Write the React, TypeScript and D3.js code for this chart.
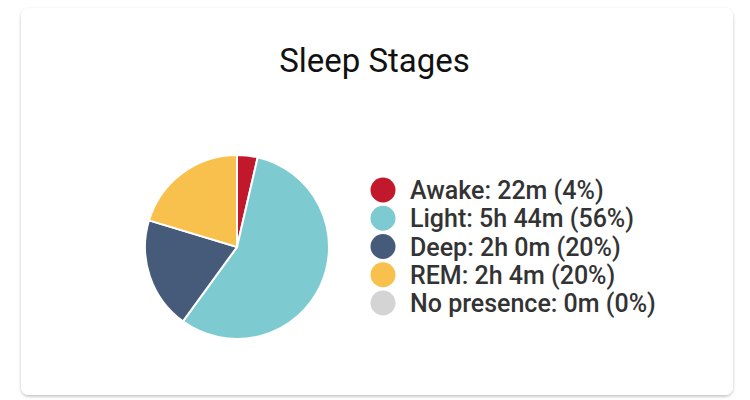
import React from "react";
import * as d3 from "d3";

const stages = ["Awake", "Light", "Deep", "REM", "No presence"];
const minutes = [22, 344, 120, 124, 0];
const labels = ["22m", "5h 44m", "2h 0m", "2h 4m", "0m"];
const percents = ["4%", "56%", "20%", "20%", "0%"];
const colors = ["#c1182b", "#7dcbd1", "#465a79", "#f8c14e", "#d4d4d4"];

export default function App() {
  const W = 750, H = 400;
  const cx = 237, cy = 247, r = 92;
  const pie = d3.pie<number>().sort(null).value((d) => d)(minutes);
  const arc = d3.arc<d3.PieArcDatum<number>>().innerRadius(0).outerRadius(r);
  const y = d3.scalePoint<string>().domain(stages).range([190, 303]);
  return (
    <div style={{ position: "absolute", left: 0, top: 0 }}>
      <svg width={W} height={H} style={{ display: "block", background: "#ffffff" }}>
        <defs>
          <filter id="sh" x="-5%" y="-5%" width="110%" height="115%">
            <feDropShadow dx="0" dy="1.5" stdDeviation="1.5" floodColor="#000" floodOpacity="0.25" />
          </filter>
        </defs>
        <rect x={21} y={8} width={712} height={387} rx={8} fill="#fff" filter="url(#sh)" />
        <text x={374.5} y={72} textAnchor="middle" fontFamily="Roboto" fontSize={33} fill="#111">
          Sleep Stages
        </text>
        <g transform={`translate(${cx},${cy})`}>
          {pie.map((p, i) =>
            p.value > 0 ? (
              <path key={i} d={arc(p) || ""} fill={colors[i]} stroke="#fff" strokeWidth={2} />
            ) : null
          )}
        </g>
        {stages.map((s, i) => (
          <g key={s} transform={`translate(0,${y(s)})`}>
            <circle cx={383} cy={0} r={12.5} fill={colors[i]} />
            <text x={410} y={0} dy="0.36em" fontFamily="Roboto" fontWeight={500} fontSize={25} fill="#333">
              {`${s}: ${labels[i]} (${percents[i]})`}
            </text>
          </g>
        ))}
      </svg>
    </div>
  );
}
